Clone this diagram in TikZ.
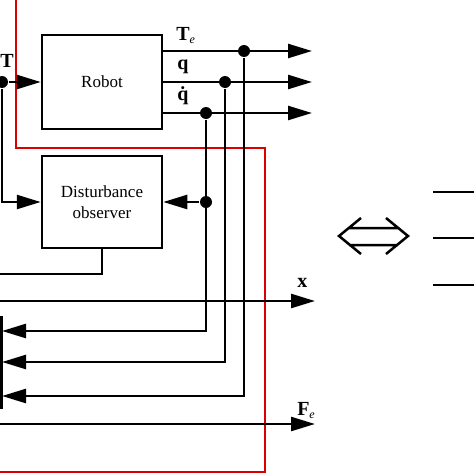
\documentclass[tikz,border=0pt]{standalone}
\usepackage{fontspec}
\setmainfont{Liberation Serif}
\usepackage{tikz}
\usetikzlibrary{positioning,calc,arrows.meta}
\tikzstyle{blk} = [draw,line width=2.5pt,minimum width=120pt,align=center,
                   font=\fontsize{17}{21}\selectfont]
\tikzstyle{dot} = [circle,fill,inner sep=0,minimum size=12pt]
\tikzstyle{lbl} = [inner sep=0,anchor=base west,font=\fontsize{20}{22}\selectfont\bfseries]
\newcommand{\subit}[1]{\raisebox{-3pt}{\fontsize{12}{12}\selectfont\mdseries\itshape #1}}

\begin{document}
\begin{tikzpicture}[
    x=1pt, y=-1pt,
    line width=2.5pt,
    arr/.style={-{Triangle[length=24pt,width=14pt]}}
]
   \useasboundingbox (0,0) rectangle (474,474);

   % red frame
   \draw[red!85!black,line width=2.3pt] (16,0) |- (265,148) -- (265,472) -- (0,472);

   \node[blk,minimum height=94pt] (robot) at (102,82)  {Robot};
   \node[blk,minimum height=92pt] (dob)   at (102,202) {Disturbance\\observer};

   \node[dot] (dT)  at (2,82)    {};
   \node[dot] (dTe) at (244,51)  {};
   \node[dot] (dq)  at (225,82)  {};
   \node[dot] (dqd) at (206,113) {};
   \node[dot] (dd)  at (206,202) {};

   \coordinate (oTe) at (312,51);
   \coordinate (oq)  at (312,82);
   \coordinate (oqd) at (312,113);
   \coordinate (bqd) at (2,331);
   \coordinate (bq)  at (2,362);
   \coordinate (bTe) at (2,396);
   \coordinate (xin)  at (0,301);
   \coordinate (xout) at (315,301);
   \coordinate (fin)  at (0,424);
   \coordinate (fout) at (315,424);
   \coordinate (dout) at (0,274);

   % inputs
   \draw[arr] (dT) -- (robot.west);
   \draw[arr] (dT) |- (dob.west);
   \draw (dob.south) |- (dout);

   % outputs
   \draw[arr] (robot.east |- dTe) -- (oTe);
   \draw[arr] (robot.east |- dq)  -- (oq);
   \draw[arr] (robot.east |- dqd) -- (oqd);
   \draw[arr] (dqd) |- (bqd);
   \draw[arr] (dq)  |- (bq);
   \draw[arr] (dTe) |- (bTe);
   \draw[arr] (dd) -- (dob.east);
   \draw[arr] (xin) -- (xout);
   \draw[arr] (fin) -- (fout);
   \draw[line width=3pt] (1.5,316) -- (1.5,409);

   \node[lbl,anchor=base] (lT) at (7,67) {T};
   \node[lbl] (lTe) at (175,40)  {T\subit{e}};
   \node[lbl] (lq)  at (176,69)  {q};
   \node[lbl] (lqd) at (176,100) {\.q};
   \node[lbl] (lx)  at (296,287) {x};
   \node[lbl] (lF)  at (296,415) {F\subit{e}};

   % equivalence sign and right side
   \draw[line width=2.5pt] (361,218) -- (339,236) -- (361,254)
                           (386,218) -- (408,236) -- (386,254)
                           (349,228) -- (398,228)
                           (349,245) -- (398,245);
   \foreach \yy in {192,238,285}
      \draw (433,\yy) -- (474,\yy);

\end{tikzpicture}
\end{document}
